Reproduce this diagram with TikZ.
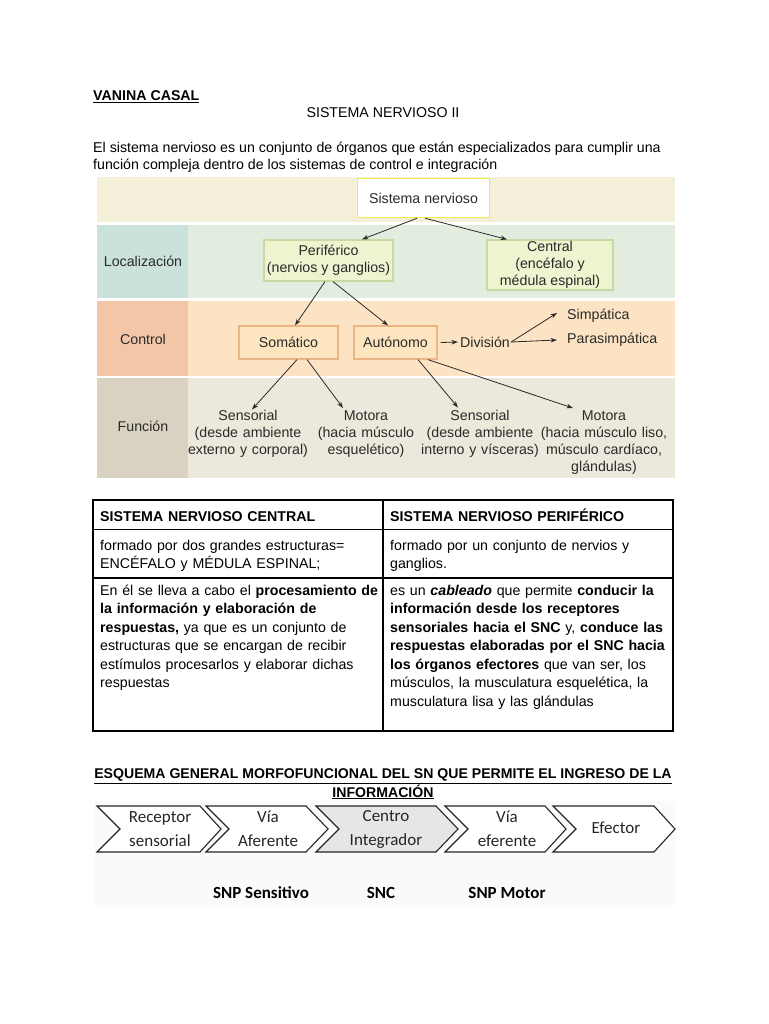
\documentclass[tikz,border=0pt]{standalone}
\usepackage{fontspec}
\setmainfont{Liberation Sans}
\newfontfamily\chevfont{Carlito}
\usetikzlibrary{positioning,arrows.meta}
\definecolor{bandtop}{HTML}{F3EFD9}
\definecolor{locband}{HTML}{E3EDDF}
\definecolor{loclab}{HTML}{CBE1DC}
\definecolor{ctrlband}{HTML}{FBE3C4}
\definecolor{ctrllab}{HTML}{F3C6A7}
\definecolor{funband}{HTML}{EDE8DC}
\definecolor{funlab}{HTML}{D9D1C1}
\definecolor{snborde}{HTML}{F2E94E}
\definecolor{locfill}{HTML}{EEF3D0}
\definecolor{locborde}{HTML}{C6DBA2}
\definecolor{ctrlfill}{HTML}{FDE5C0}
\definecolor{ctrlborde}{HTML}{EBB583}
\definecolor{tinta}{HTML}{2A2A2A}
\definecolor{chevgris}{HTML}{E6E6E6}
\definecolor{fondochev}{HTML}{FAFAFA}
\tikzset{
  texto/.style={font=\fontsize{14.2}{17}\selectfont},
  diag/.style={font=\fontsize{14.2}{17}\selectfont,text=tinta},
  celda/.style={font=\fontsize{14.2}{18.5}\selectfont,anchor=base west,align=left,text width=282pt},
  flecha/.style={-{Stealth[length=6.5pt,width=4.5pt]},line width=0.8pt,draw=tinta},
  cajaloc/.style={diag,draw=locborde,fill=locfill,line width=1.2pt,align=center},
  cajactrl/.style={diag,draw=ctrlborde,fill=ctrlfill,line width=1.2pt},
  chev/.style={draw=black!85,line width=1.1pt,fill=white},
}
\begin{document}
\begin{tikzpicture}[x=1pt,y=-1pt,every node/.style={inner sep=0pt}]
\useasboundingbox (0,0) rectangle (768,1024);
\fill[white] (0,0) rectangle (768,1024);
% encabezado
\node[texto,anchor=base west,font=\bfseries\fontsize{14.2}{17}\selectfont] (VC) at (93,101) {\underline{VANINA CASAL}};
\node[texto,anchor=base] (Tit) at (383,118) {SISTEMA NERVIOSO II};
\node[texto,anchor=base west,align=left] (Par) at (93,170) {El sistema nervioso es un conjunto de órganos que están especializados para cumplir una\\función compleja dentro de los sistemas de control e integración};
% bandas del esquema
\fill[bandtop] (97,177) rectangle (675,222);
\fill[locband] (97,225) rectangle (675,298);
\fill[loclab] (97,225) rectangle (188,298);
\fill[ctrlband] (97,301) rectangle (675,376);
\fill[ctrllab] (97,301) rectangle (188,376);
\fill[funband] (97,378) rectangle (675,478);
\fill[funlab] (97,378) rectangle (188,478);
\node[diag] (Loc) at (143,261) {Localización};
\node[diag] (Ctl) at (143,339) {Control};
\node[diag] (Fun) at (143,426) {Función};
% cajas
\node[diag,draw=snborde,fill=white,line width=1.5pt,minimum width=132pt,minimum height=39pt] (SN) at (423.5,198) {Sistema nervioso};
\node[cajaloc,minimum width=129pt,minimum height=41pt] (P) at (328.5,260.5) {Periférico\\(nervios y ganglios)};
\node[cajaloc,minimum width=126pt,minimum height=50pt] (C) at (550,265) {Central\\(encéfalo y\\médula espinal)};
\node[cajactrl,minimum width=99pt,minimum height=33pt] (So) at (288.5,342.5) {Somático};
\node[cajactrl,minimum width=83pt,minimum height=33pt] (Au) at (395.5,342.5) {Autónomo};
\node[diag] (Di) at (485,342) {División};
\node[diag,anchor=west] (Si) at (567,316) {Simpática};
\node[diag,anchor=west] (Pa) at (567,340) {Parasimpática};
\foreach \n/\x/\t in {S1/248/{Sensorial\\(desde ambiente\\externo y corporal)},
                      M1/366/{Motora\\(hacia músculo\\esquelético)},
                      S2/480/{Sensorial\\(desde ambiente\\interno y vísceras)},
                      M2/604/{Motora\\(hacia músculo liso,\\músculo cardíaco,\\glándulas)}}
  \node[diag,align=center,text width=136pt,anchor=base] (\n) at (\x,420) {\t};
% flechas
\draw[flecha] ([xshift=-6.5pt]SN.south) -- ([xshift=33.5pt]P.north);
\draw[flecha] ([xshift=1.5pt]SN.south) -- ([xshift=-43pt]C.north);
\draw[flecha] ([xshift=-3.5pt]P.south) -- ([xshift=6.5pt]So.north);
\draw[flecha] ([xshift=4.5pt]P.south) -- ([xshift=-7.5pt]Au.north);
\draw[flecha] ([xshift=3pt]Au.east) -- ([xshift=-2pt]Di.west);
\draw[flecha] ([xshift=1pt]Di.east) -- ([xshift=-10pt,yshift=3pt]Si.west);
\draw[flecha] ([xshift=1pt]Di.east) -- ([xshift=-10pt]Pa.west);
\draw[flecha] ([xshift=8.5pt]So.south) -- ([xshift=4pt]S1.north);
\draw[flecha] ([xshift=18.5pt]So.south) -- ([xshift=-23pt,yshift=2pt]M1.north);
\draw[flecha] ([xshift=22.5pt]Au.south) -- ([xshift=-22pt,yshift=2pt]S2.north);
\draw[flecha] ([xshift=32.5pt]Au.south) -- ([xshift=-31pt,yshift=2pt]M2.north);
% tabla
\draw[line width=1.2pt] (93,500) rectangle (673,731);
\draw[line width=1.2pt] (93,529.5) -- (673,529.5);
\draw[line width=1.2pt] (93,578) -- (673,578);
\draw[line width=1.2pt] (383,500) -- (383,731);
\node[celda] (T1) at (100,521) {\textbf{SISTEMA NERVIOSO CENTRAL}};
\node[celda] (T2) at (390,521) {\textbf{SISTEMA NERVIOSO PERIFÉRICO}};
\node[celda] (T3) at (100,550) {formado por dos grandes estructuras=\\ENCÉFALO y MÉDULA ESPINAL;};
\node[celda] (T4) at (390,550) {formado por un conjunto de nervios y\\ganglios.};
\node[celda] (T5) at (100,595) {En él se lleva a cabo el \textbf{procesamiento de}\\\textbf{la información y elaboración de}\\\textbf{respuestas,} ya que es un conjunto de\\estructuras que se encargan de recibir\\estímulos procesarlos y elaborar dichas\\respuestas};
\node[celda] (T6) at (390,595) {es un \textbf{\textit{cableado}} que permite \textbf{conducir la}\\\textbf{información desde los receptores}\\\textbf{sensoriales hacia el SNC} y, \textbf{conduce las}\\\textbf{respuestas elaboradas por el SNC hacia}\\\textbf{los órganos efectores} que van ser, los\\músculos, la musculatura esquelética, la\\musculatura lisa y las glándulas};
% esquema morfofuncional
\node[anchor=base,align=center,font=\bfseries\fontsize{14.1}{17}\selectfont] (Esq) at (383,797) {\underline{ESQUEMA GENERAL MORFOFUNCIONAL DEL SN QUE PERMITE EL INGRESO DE LA}\\\underline{INFORMACIÓN}};
\fill[fondochev] (95,801) rectangle (676,905);
\foreach \a/\b/\c in {97/200/221,206/306/328,445/545/566,553/654/675}
  \draw[chev] (\a,806) -- (\b,806) -- (\c,829) -- (\b,852) -- (\a,852) -- (\a+23,829) -- cycle;
\draw[chev,fill=chevgris] (316,806) -- (436,806) -- (458,829) -- (436,852) -- (316,852) -- (339,829) -- cycle;
\tikzset{chevtxt/.style={font=\chevfont\fontsize{17}{24}\selectfont,align=center,text=black!85}}
\node[chevtxt] (Rec) at (160,829) {Receptor\\sensorial};
\node[chevtxt] (VAf) at (268,829) {Vía\\Aferente};
\node[chevtxt] (CI) at (386,829) {Centro\\Integrador};
\node[chevtxt] (VEf) at (507,829) {Vía\\eferente};
\node[chevtxt] (Ef) at (616,828) {Efector};
\node[font=\chevfont\bfseries\fontsize{17}{20}\selectfont] (SNPs) at (261,893) {SNP Sensitivo};
\node[font=\chevfont\bfseries\fontsize{17}{20}\selectfont] (SNC) at (381,893) {SNC};
\node[font=\chevfont\bfseries\fontsize{17}{20}\selectfont] (SNPm) at (507,893) {SNP Motor};
\end{tikzpicture}
\end{document}
